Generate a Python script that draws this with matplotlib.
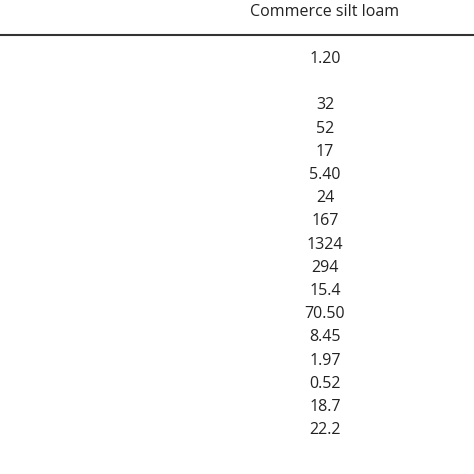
import matplotlib
matplotlib.use("Agg")
import matplotlib.pyplot as plt

header = "Commerce silt loam"
values = ["1.20", "", "32", "52", "17", "5.40", "24", "167", "1324", "294",
          "15.4", "70.50", "8.45", "1.97", "0.52", "18.7", "22.2"]

fig = plt.figure(figsize=(4.74, 4.74), dpi=100)
ax = fig.add_axes([0, 0, 1, 1])
ax.set_xlim(0, 474)
ax.set_ylim(474, 0)
ax.axis("off")

col_x = 325
ax.text(col_x, 12, header, ha="center", va="center", fontsize=11.5,
        family="Open Sans", color="#222222")
ax.plot([0, 474], [35, 35], color="#333333", lw=1.5)

y0, step = 59, 23.2
for i, v in enumerate(values):
    if v:
        ax.text(col_x, y0 + i * step, v, ha="center", va="center",
                fontsize=11.5, family="Open Sans", color="#222222")

fig.savefig("out.png", dpi=100)
